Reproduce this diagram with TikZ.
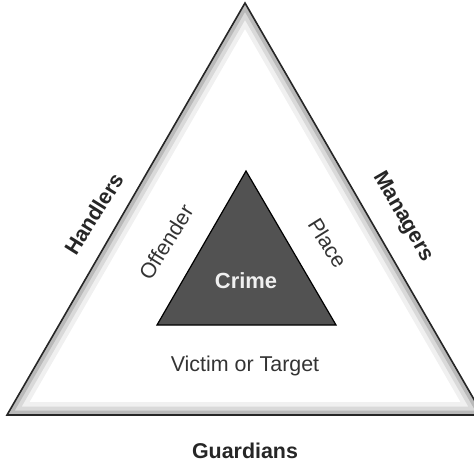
\documentclass[tikz,border=0pt]{standalone}
\usepackage{fontspec}
\setmainfont{Liberation Sans}
\usetikzlibrary{positioning}

\begin{document}
\begin{tikzpicture}[x=1bp, y=-1bp, every node/.style={font=\fontsize{21.5}{25}\selectfont, inner sep=0pt}]
			\useasboundingbox (0,0) rectangle (474,474);
			% Corners
			\coordinate (otop) at (245,3);
			\coordinate (oleft) at (7,415);
			\coordinate (oright) at (483,415);
			\coordinate (itop) at (246,171);
			\coordinate (ileft) at (157,325);
			\coordinate (iright) at (336,325);
			% Outer triangle
			\begin{scope}
				\clip (otop) -- (oleft) -- (oright) -- cycle;
				\draw[line width=26bp, gray!12] (otop) -- (oleft) -- (oright) -- cycle;
				\draw[line width=17bp, gray!30] (otop) -- (oleft) -- (oright) -- cycle;
				\draw[line width=9bp, gray!55] (otop) -- (oleft) -- (oright) -- cycle;
			\end{scope}
			\draw[line width=1.6bp, black!85, line join=miter] (otop) -- (oleft) -- (oright) -- cycle;
			% Inner triangle
			\draw[line width=1.2bp, black, fill=black!68, line join=miter] (itop) -- (ileft) -- (iright) -- cycle;
			\node[font=\fontsize{22}{26}\selectfont\bfseries, text=gray!12] (crime) at (246,281) {Crime};
			% Inner labels
			\node[rotate=58, text=black!80] (offender) at (166,242) {Offender};
			\node[rotate=-58, text=black!80] (place) at (328,243) {Place};
			\node[text=black!80] (victim) at (245,366) {Victim or Target};
			% Outer labels
			\node[rotate=58, font=\fontsize{21.5}{25}\selectfont\bfseries, text=black!85] (handlers) at (94,214) {Handlers};
			\node[rotate=-60, font=\fontsize{21.5}{25}\selectfont\bfseries, text=black!85] (managers) at (403,217) {Managers};
			\node[font=\fontsize{21.5}{25}\selectfont\bfseries, text=black!85] (guardians) at (245,451) {Guardians};
		\end{tikzpicture}
\end{document}
